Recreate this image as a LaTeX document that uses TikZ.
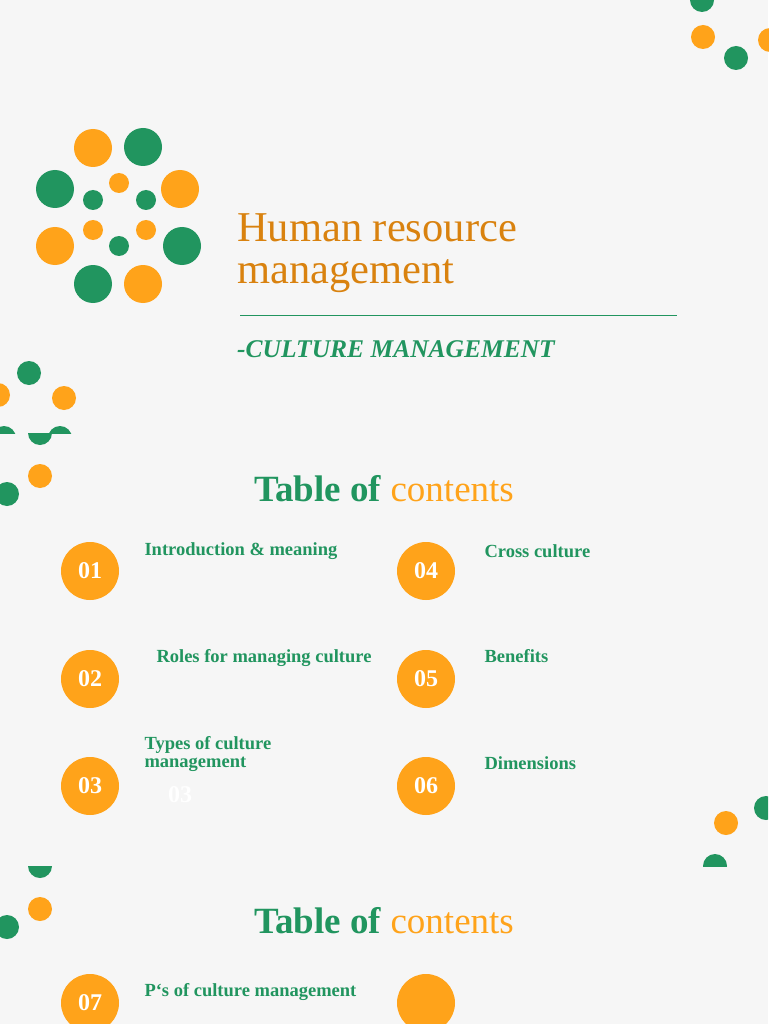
\documentclass[tikz,border=0pt]{standalone}
\usepackage{fontspec}
\setmainfont{Liberation Serif}
\definecolor{gr}{HTML}{21955F}
\definecolor{og}{HTML}{FFA31A}
\definecolor{tog}{HTML}{D9820F}
\begin{document}
\begin{tikzpicture}[x=1pt,y=-1pt,
  dot/.style={circle,inner sep=0pt,minimum size=#1},
  num/.style={circle,fill=og,minimum size=58pt,inner sep=0pt,text=white,font=\bfseries\fontsize{24}{24}\selectfont},
  lab/.style={anchor=west,text=gr,font=\bfseries\fontsize{18.5}{18}\selectfont,align=left}]
\fill[gray!7] (0,0) rectangle (768,1024);
\useasboundingbox (0,0) rectangle (768,1024);
% top right
\fill[gr] (702,0) circle (12);
\fill[og] (703,37) circle (12);
\fill[gr] (736,58) circle (12);
\fill[og] (770,40) circle (12);
% flower
\foreach \x/\y/\c in {93/148/og,143/147/gr,55/189/gr,180/189/og,55/246/og,182/246/gr,93/284/gr,143/284/og}
  \fill[\c] (\x,\y) circle (19);
\foreach \x/\y/\c in {119/183/og,93/200/gr,146/200/gr,93/230/og,146/230/og,119/246/gr}
  \fill[\c] (\x,\y) circle (10);
% left dots page 1
\begin{scope}
\clip (0,0) rectangle (768,433);
\fill[gr] (29,373) circle (12);
\fill[og] (-2,395) circle (12);
\fill[og] (64,398) circle (12);
\fill[gr] (4,438) circle (12);
\fill[gr] (60,438) circle (12);
\end{scope}
\begin{scope}
\clip (0,433) rectangle (768,866);
\fill[gr] (40,433) circle (12);
\fill[og] (40,476) circle (12);
\fill[gr] (7,494) circle (12);
\fill[og] (726,823) circle (12);
\fill[gr] (766,808) circle (12);
\fill[gr] (715,866) circle (12);
\end{scope}
\begin{scope}
\clip (0,866) rectangle (768,1024);
\fill[gr] (40,866) circle (12);
\fill[og] (40,909) circle (12);
\fill[gr] (7,927) circle (12);
\end{scope}
% title
\node (t1) [anchor=west,text=tog,font=\fontsize{42.5}{42}\selectfont,align=left,inner sep=0pt] at (237,253) {Human resource\\management};
\draw[gr,line width=0.8pt] (240,315) -- (677,315);
\node (t2) [anchor=west,text=gr,font=\bfseries\itshape\fontsize{25.5}{25}\selectfont,inner sep=0pt] at (237,349) {-CULTURE MANAGEMENT};
% TOC
\node (h1) at (384,489) {\fontsize{37}{37}\selectfont\textcolor{gr}{\bfseries Table of} \textcolor{og}{contents}};
\node (h2) at (384,921) {\fontsize{37}{37}\selectfont\textcolor{gr}{\bfseries Table of} \textcolor{og}{contents}};
\node[num] (n1) at (90,571) {01};
\node[num] (n2) at (90,679) {02};
\node[num] (n3) at (90,786) {03};
\node[num] (n4) at (426,571) {04};
\node[num] (n5) at (426,679) {05};
\node[num] (n6) at (426,786) {06};
\node[num] (n7) at (90,1003) {07};
\node[num] (n8) at (426,1003) {};
\node[lab] (l1) at (141,551) {Introduction \& meaning};
\node[lab] (l2) at (153,658) {Roles for managing culture};
\node[lab] (l3) at (141,754) {Types of culture\\management};
\node[lab] (l4) at (481,551) {Cross culture};
\node[lab] (l5) at (481,656) {Benefits};
\node[lab] (l6) at (481,763) {Dimensions};
\node[lab] (l7) at (141,992) {P`s of culture management};
\node (g3) [text=white,font=\bfseries\fontsize{24}{24}\selectfont] at (180,795) {03};
\end{tikzpicture}
\end{document}
